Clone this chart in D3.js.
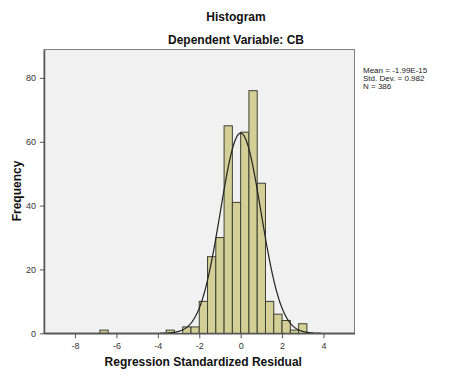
<!DOCTYPE html>
<html><head><meta charset="utf-8">
<script src="https://cdn.jsdelivr.net/npm/d3@7"></script>
<style>body{margin:0;background:#fff;} svg{display:block;font-family:"Liberation Sans",Arial,sans-serif;}</style>
</head><body>
<script>
const binStarts = [-6.8,-3.6,-2.8,-2.4,-2.0,-1.6,-1.2,-0.8,-0.4,0.0,0.4,0.8,1.2,1.6,2.0,2.4,2.8];
const binCounts = [1,1,2,2,10,24,30,65,41,63,76,47,10,6,4,1,3];
const binWidth = 0.4;
const xTicks = [-8,-6,-4,-2,0,2,4];
const yTicks = [0,20,40,60,80];
const statsLines = ["Mean = -1.99E-15","Std. Dev. = 0.982","N = 386"];
const meanVal = 0, sdVal = 0.982, nVal = 386;

const W=474,H=379;
const svg=d3.select("body").append("svg").attr("width",W).attr("height",H);
const L=44,T=49.5,R=354.5,B=333.3;
const x=d3.scaleLinear().domain([-9.5,5.5]).range([L,R]);
const y=d3.scaleLinear().domain([0,88.9]).range([B,T]);

svg.append("rect").attr("x",L).attr("y",T).attr("width",R-L).attr("height",B-T)
  .attr("fill","#f1f1f1").attr("stroke","#808080").attr("stroke-width",1);

const data=binStarts.map((s,i)=>({s,c:binCounts[i]}));
svg.append("g").selectAll("rect").data(data).join("rect")
  .attr("x",d=>x(d.s)).attr("width",d=>x(d.s+binWidth)-x(d.s))
  .attr("y",d=>y(d.c)).attr("height",d=>y(0)-y(d.c))
  .attr("fill","#d3cf97").attr("stroke","#3f3f33").attr("stroke-width",1);

// normal curve from stated mean/sd
const pts=d3.range(0,601).map(i=>{const v=-9.5+i*15/600;
  return [v,nVal*binWidth*Math.exp(-0.5*((v-meanVal)/sdVal)**2)/(sdVal*Math.sqrt(2*Math.PI))];});
svg.append("path").datum(pts).attr("fill","none").attr("stroke","#222").attr("stroke-width",1.2)
  .attr("d",d3.line().x(d=>x(d[0])).y(d=>y(d[1])));

// axes
const fmt=d=>String(d);
const xa=svg.append("g").attr("transform",`translate(0,${B})`)
  .call(d3.axisBottom(x).tickValues(xTicks).tickFormat(fmt).tickSize(5).tickSizeOuter(0));
const ya=svg.append("g").attr("transform",`translate(${L},0)`)
  .call(d3.axisLeft(y).tickValues(yTicks).tickFormat(fmt).tickSize(4).tickSizeOuter(0));
[xa,ya].forEach(a=>{a.select(".domain").attr("stroke","#555").attr("stroke-width",1.5);
  a.selectAll(".tick line").attr("stroke","#555");
  a.selectAll("text").attr("font-size",9).attr("fill","#333").attr("font-family","'Liberation Sans',Arial,sans-serif");});
xa.selectAll("text").attr("dy","0.9em");
ya.selectAll("text").attr("dx","-0.1em");

svg.append("text").attr("x",236).attr("y",21).attr("text-anchor","middle")
  .attr("font-size",12).attr("font-weight","bold").attr("fill","#111").text("Histogram");
svg.append("text").attr("x",236).attr("y",44).attr("text-anchor","middle")
  .attr("font-size",12).attr("font-weight","bold").attr("fill","#111").text("Dependent Variable: CB");
svg.append("text").attr("x",(L+R)/2+4).attr("y",366).attr("text-anchor","middle")
  .attr("font-size",12).attr("font-weight","bold").attr("fill","#111").text("Regression Standardized Residual");
svg.append("text").attr("transform","translate(21,191) rotate(-90)").attr("text-anchor","middle")
  .attr("font-size",12).attr("font-weight","bold").attr("fill","#111").text("Frequency");

svg.append("g").selectAll("text").data(statsLines).join("text")
  .attr("x",363).attr("y",(d,i)=>73+i*8).attr("font-size",8).attr("fill","#222").text(d=>d);
</script>
</body></html>
